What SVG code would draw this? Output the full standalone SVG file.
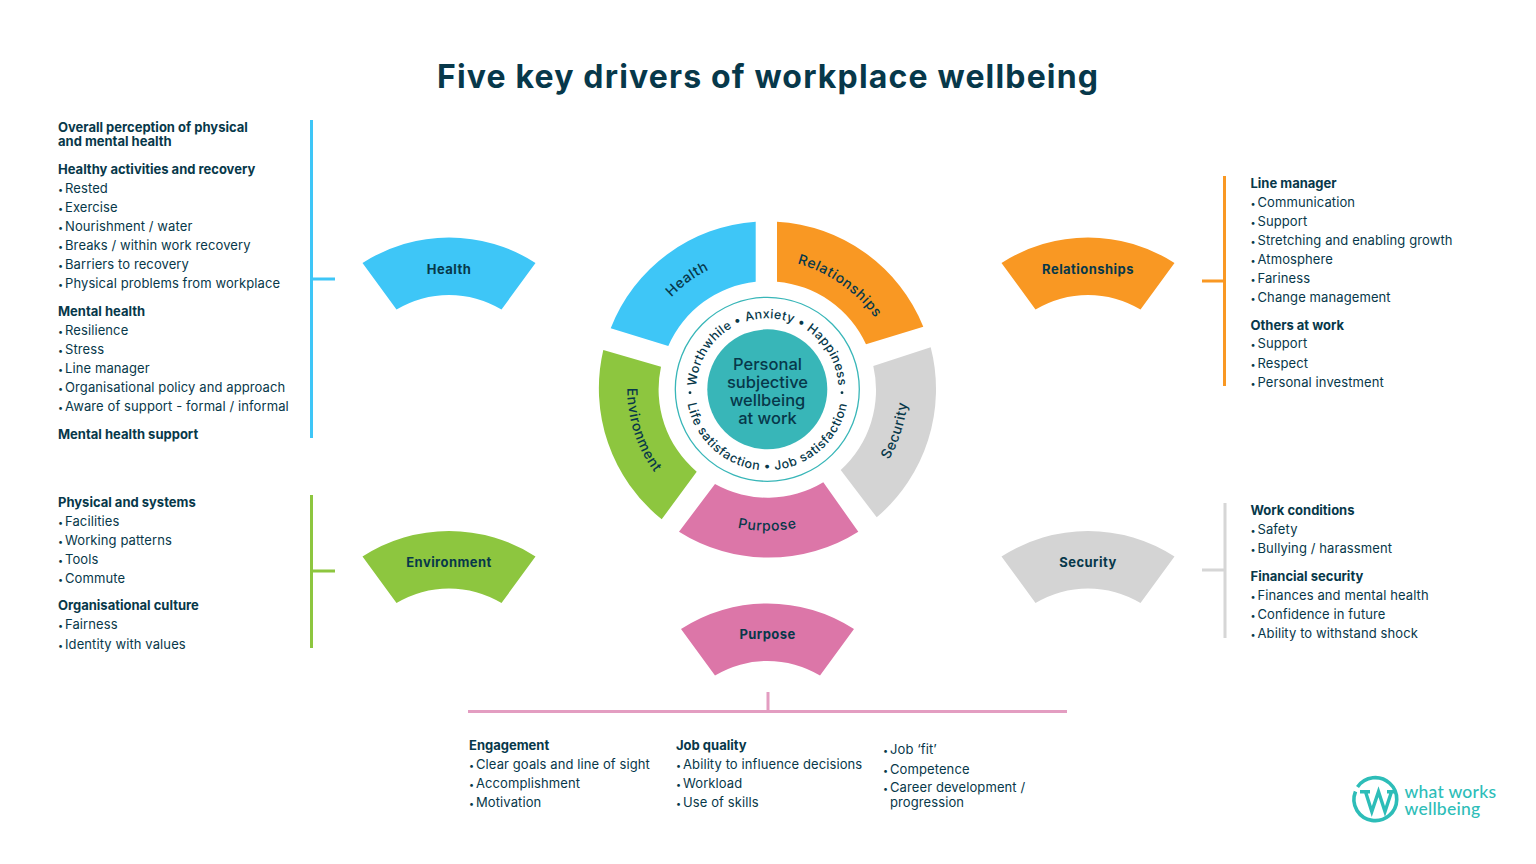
<svg xmlns="http://www.w3.org/2000/svg" width="1536" height="864" viewBox="0 0 1536 864">
<style>
text{font-family:"Inter","Open Sans","Liberation Sans",sans-serif;fill:#07384a}
.t{font-size:32px;font-weight:700;text-anchor:middle}
.h{font-size:13px;font-weight:700}
.b{font-size:13px;font-weight:400;letter-spacing:.1px}
.d{font-size:9px}
.n{font-size:13px;font-weight:700;text-anchor:middle;letter-spacing:.45px}
.s{font-size:14px;font-weight:500;text-anchor:middle;letter-spacing:.6px}
.r{font-size:12.5px;font-weight:500;text-anchor:middle;letter-spacing:.4px}
.q{font-size:12.5px;font-weight:500;text-anchor:middle;letter-spacing:.6px}
.c{font-size:16.5px;font-weight:500;text-anchor:middle}
.l{font-family:"Lato","Liberation Sans",sans-serif;font-size:17.5px;font-weight:500;letter-spacing:.25px;fill:#2dbdb8}
.bar{fill:none;stroke-width:3}
</style>
<defs>
<path id="fan" d="M-86.5,27A159,159 0 0 1 86.5,27L52.5,73.5A102,102 0 0 0 -52.5,73.5Z"/>
<path id="pHealth" d="M845.5,496.9A133,133 0 1 1 689.1,281.7A133,133 0 1 1 845.5,496.9"/>
<path id="pRel" d="M693.9,494.1A128,128 0 1 1 840.7,284.5A128,128 0 1 1 693.9,494.1"/>
<path id="pSec" d="M633.5,346.3A140.5,140.5 0 1 0 901.1,432.3A140.5,140.5 0 1 0 633.5,346.3"/>
<path id="pPur" d="M767.3,247.8A141.5,141.5 0 1 0 767.3,530.8A141.5,141.5 0 1 0 767.3,247.8"/>
<path id="pEnv" d="M900.5,345.9A140,140 0 1 0 634.1,432.7A140,140 0 1 0 900.5,345.9"/>
<path id="pTop" d="M767.3,460.3A71,71 0 1 1 767.3,318.3A71,71 0 1 1 767.3,460.3"/>
<path id="pBot" d="M767.3,308.3A81,81 0 1 0 767.3,470.3A81,81 0 1 0 767.3,308.3"/>
</defs>
<rect width="1536" height="864" fill="#fff"/>
<text class="t" x="767.5" y="88" textLength="661" lengthAdjust="spacing">Five key drivers of workplace wellbeing</text>

<g id="connectors">
<path class="bar" stroke="#3ec6f7" d="M311.5,120V438M311.5,279H335"/>
<path class="bar" stroke="#8dc63f" d="M311.5,495V648M311.5,571H335"/>
<path class="bar" stroke="#f99823" d="M1224.5,176V386M1224.5,281H1202"/>
<path class="bar" stroke="#d6d6d6" d="M1225,503V638M1225,570H1202"/>
<path class="bar" stroke="#e39dc1" d="M468,711.5H1067M768,692V711"/>
</g>

<g id="wheel">
<g id="wheel-health"><path fill="#3ec6f7" d="M755.7,221.7V281.7A108,108 0 0 0 668.3,346L610.7,328.3A168,168 0 0 1 755.7,221.7Z"/><text class="s"><textPath href="#pHealth" startOffset="50%">Health</textPath></text></g>
<g id="wheel-relationships"><path fill="#f99823" d="M777,221.7V281.7A108,108 0 0 1 866,344.3L923.3,326.7A168,168 0 0 0 777,221.7Z"/><text class="s"><textPath href="#pRel" startOffset="50%">Relationships</textPath></text></g>
<g id="wheel-security"><path fill="#d4d4d4" d="M930.7,347.3L873.3,366A108,108 0 0 1 840.7,470L876.7,517.3A168,168 0 0 0 930.7,347.3Z"/><text class="s"><textPath href="#pSec" startOffset="50%">Security</textPath></text></g>
<g id="wheel-purpose"><path fill="#dc76a8" d="M823.3,482.3L858.3,531.7A168,168 0 0 1 679,531.7L715,484A108,108 0 0 0 823.3,482.3Z"/><text class="s"><textPath href="#pPur" startOffset="50%">Purpose</textPath></text></g>
<g id="wheel-environment"><path fill="#8dc63f" d="M661.7,519.3L696.7,471.7A108,108 0 0 1 661,366.7L603.3,350A168,168 0 0 0 661.7,519.3Z"/><text class="s"><textPath href="#pEnv" startOffset="50%">Environment</textPath></text></g>
</g>

<g id="centre">
<circle cx="767.3" cy="389.3" r="92" fill="#fff" stroke="#38b6b8" stroke-width="1.3"/>
<circle cx="767.3" cy="389.3" r="60" fill="#38b6b8"/>
<text class="c" x="767.5" y="370">Personal</text>
<text class="c" x="767.5" y="388">subjective</text>
<text class="c" x="767.5" y="406">wellbeing</text>
<text class="c" x="767.5" y="424">at work</text>
<text class="r"><textPath href="#pTop" startOffset="50%">Worthwhile • Anxiety • Happiness</textPath></text>
<text class="q"><textPath href="#pBot" startOffset="50%">Life satisfaction • Job satisfaction</textPath></text>
<circle cx="690" cy="392.7" r="1.4" fill="#07384a"/>
<circle cx="842" cy="392.7" r="1.4" fill="#07384a"/>
</g>

<g id="node-health"><use href="#fan" x="449" y="236" fill="#3ec6f7"/><text class="n" x="449" y="273.5">Health</text></g>
<g id="node-relationships"><use href="#fan" x="1088" y="236" fill="#f99823"/><text class="n" x="1088" y="273.5">Relationships</text></g>
<g id="node-environment"><use href="#fan" x="449" y="529.5" fill="#8dc63f"/><text class="n" x="449" y="566.5">Environment</text></g>
<g id="node-security"><use href="#fan" x="1088" y="529.5" fill="#d4d4d4"/><text class="n" x="1088" y="566.5">Security</text></g>
<g id="node-purpose"><use href="#fan" x="767.5" y="602" fill="#dc76a8"/><text class="n" x="767.5" y="639">Purpose</text></g>

<g id="list-health">
<text class="h" x="58" y="132">Overall perception of physical</text>
<text class="h" x="58" y="146">and mental health</text>
<text class="h" x="58" y="174">Healthy activities and recovery</text>
<text class="b" y="192.5"><tspan class="d" x="58">•</tspan><tspan x="65">Rested</tspan></text>
<text class="b" y="212"><tspan class="d" x="58">•</tspan><tspan x="65">Exercise</tspan></text>
<text class="b" y="231"><tspan class="d" x="58">•</tspan><tspan x="65">Nourishment / water</tspan></text>
<text class="b" y="249.5"><tspan class="d" x="58">•</tspan><tspan x="65">Breaks / within work recovery</tspan></text>
<text class="b" y="268.5"><tspan class="d" x="58">•</tspan><tspan x="65">Barriers to recovery</tspan></text>
<text class="b" y="288"><tspan class="d" x="58">•</tspan><tspan x="65">Physical problems from workplace</tspan></text>
<text class="h" x="58" y="315.5">Mental health</text>
<text class="b" y="334.5"><tspan class="d" x="58">•</tspan><tspan x="65">Resilience</tspan></text>
<text class="b" y="353.5"><tspan class="d" x="58">•</tspan><tspan x="65">Stress</tspan></text>
<text class="b" y="372.5"><tspan class="d" x="58">•</tspan><tspan x="65">Line manager</tspan></text>
<text class="b" y="391.5"><tspan class="d" x="58">•</tspan><tspan x="65">Organisational policy and approach</tspan></text>
<text class="b" y="410.5"><tspan class="d" x="58">•</tspan><tspan x="65">Aware of support - formal / informal</tspan></text>
<text class="h" x="58" y="438.5">Mental health support</text>
</g>
<g id="list-environment">
<text class="h" x="58" y="506.5">Physical and systems</text>
<text class="b" y="525.5"><tspan class="d" x="58">•</tspan><tspan x="65">Facilities</tspan></text>
<text class="b" y="544.5"><tspan class="d" x="58">•</tspan><tspan x="65">Working patterns</tspan></text>
<text class="b" y="563.5"><tspan class="d" x="58">•</tspan><tspan x="65">Tools</tspan></text>
<text class="b" y="582.5"><tspan class="d" x="58">•</tspan><tspan x="65">Commute</tspan></text>
<text class="h" x="58" y="610">Organisational culture</text>
<text class="b" y="629"><tspan class="d" x="58">•</tspan><tspan x="65">Fairness</tspan></text>
<text class="b" y="648.5"><tspan class="d" x="58">•</tspan><tspan x="65">Identity with values</tspan></text>
</g>
<g id="list-relationships">
<text class="h" x="1250.5" y="187.5">Line manager</text>
<text class="b" y="206.5"><tspan class="d" x="1250.5">•</tspan><tspan x="1257.5">Communication</tspan></text>
<text class="b" y="225.5"><tspan class="d" x="1250.5">•</tspan><tspan x="1257.5">Support</tspan></text>
<text class="b" y="244.5"><tspan class="d" x="1250.5">•</tspan><tspan x="1257.5">Stretching and enabling growth</tspan></text>
<text class="b" y="263.5"><tspan class="d" x="1250.5">•</tspan><tspan x="1257.5">Atmosphere</tspan></text>
<text class="b" y="282.5"><tspan class="d" x="1250.5">•</tspan><tspan x="1257.5">Fariness</tspan></text>
<text class="b" y="301.5"><tspan class="d" x="1250.5">•</tspan><tspan x="1257.5">Change management</tspan></text>
<text class="h" x="1250.5" y="329.5">Others at work</text>
<text class="b" y="348"><tspan class="d" x="1250.5">•</tspan><tspan x="1257.5">Support</tspan></text>
<text class="b" y="367.5"><tspan class="d" x="1250.5">•</tspan><tspan x="1257.5">Respect</tspan></text>
<text class="b" y="386.5"><tspan class="d" x="1250.5">•</tspan><tspan x="1257.5">Personal investment</tspan></text>
</g>
<g id="list-security">
<text class="h" x="1250.5" y="514.5">Work conditions</text>
<text class="b" y="533.5"><tspan class="d" x="1250.5">•</tspan><tspan x="1257.5">Safety</tspan></text>
<text class="b" y="552.5"><tspan class="d" x="1250.5">•</tspan><tspan x="1257.5">Bullying / harassment</tspan></text>
<text class="h" x="1250.5" y="580.5">Financial security</text>
<text class="b" y="599.5"><tspan class="d" x="1250.5">•</tspan><tspan x="1257.5">Finances and mental health</tspan></text>
<text class="b" y="618.5"><tspan class="d" x="1250.5">•</tspan><tspan x="1257.5">Confidence in future</tspan></text>
<text class="b" y="637.5"><tspan class="d" x="1250.5">•</tspan><tspan x="1257.5">Ability to withstand shock</tspan></text>
</g>
<g id="list-purpose">
<text class="h" x="469" y="749.5">Engagement</text>
<text class="b" y="768.5"><tspan class="d" x="469">•</tspan><tspan x="476">Clear goals and line of sight</tspan></text>
<text class="b" y="787.5"><tspan class="d" x="469">•</tspan><tspan x="476">Accomplishment</tspan></text>
<text class="b" y="806.5"><tspan class="d" x="469">•</tspan><tspan x="476">Motivation</tspan></text>
<text class="h" x="676" y="749.5">Job quality</text>
<text class="b" y="768.5"><tspan class="d" x="676">•</tspan><tspan x="683">Ability to influence decisions</tspan></text>
<text class="b" y="787.5"><tspan class="d" x="676">•</tspan><tspan x="683">Workload</tspan></text>
<text class="b" y="806.5"><tspan class="d" x="676">•</tspan><tspan x="683">Use of skills</tspan></text>
<text class="b" y="754"><tspan class="d" x="883">•</tspan><tspan x="890">Job ‘fit’</tspan></text>
<text class="b" y="773.5"><tspan class="d" x="883">•</tspan><tspan x="890">Competence</tspan></text>
<text class="b" y="792"><tspan class="d" x="883">•</tspan><tspan x="890">Career development /</tspan></text>
<text class="b" x="890" y="806.5">progression</text>
</g>

<g id="logo">
<path fill="none" stroke="#2dbdb8" stroke-width="3.6" d="M1357.5,787A21.5,21.5 0 1 1 1357,810.5A21.5,21.5 0 0 1 1355.5,791.5"/>
<path fill="none" stroke="#2dbdb8" stroke-width="3.4" d="M1360,791.7H1370M1365.5,791.7L1371.8,811.5L1378.5,791.7L1385,811.5L1391.5,791.7M1387,791.7H1396"/>
<text class="l" x="1404.5" y="798">what works</text>
<text class="l" x="1404.5" y="814.5">wellbeing</text>
</g>
</svg>
